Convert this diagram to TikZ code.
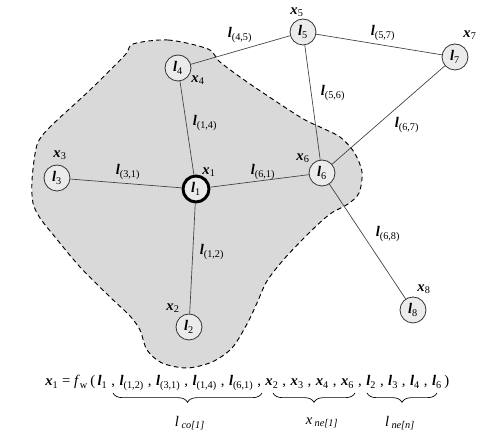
\documentclass[tikz,border=0pt]{standalone}
\usepackage{fontspec}
\setmainfont{Liberation Serif}
\usetikzlibrary{decorations.pathreplacing}
\newcommand{\bl}{\textbf{\textit{l}}}
\newcommand{\bx}{\textbf{\textit{x}}}
\newcommand{\sbs}[1]{\textsubscript{#1}}
\newcommand{\cm}{\hspace{2.9pt},\hspace{3.4pt}}
\begin{document}
\begin{tikzpicture}[x=0.75pt,y=-0.75pt,
  nd/.style={circle,draw=black!80,fill=black!8,minimum size=19.5pt,inner sep=0pt,line width=0.6pt,font=\fontsize{11}{13}\selectfont},
  lbl/.style={inner sep=0pt,font=\fontsize{11}{13}\selectfont},
  edge/.style={draw=black!75,line width=0.5pt},
  blob/.style={draw=black,fill=black!15,dash pattern=on 3.5pt off 2.5pt,line width=0.7pt},
  brc/.style={decorate,decoration={brace,mirror,amplitude=7pt},line width=0.5pt}]
\useasboundingbox (0,0) rectangle (494,448);
\fill[white] (0,0) rectangle (494,448);
\path[blob] plot[smooth cycle,tension=0.5] coordinates {
 (133,44) (168,40) (208,49) (220,62) (250,84) (300,117) (320,127) (340,137)
 (354,152) (362,172) (359,193) (348,204) (330,214) (310,232) (285,258)
 (267,281) (257,303) (247,324) (232,348) (212,362) (187,368) (162,363)
 (147,350) (140,330) (130,316) (110,297) (80,267) (55,237) (40,218)
 (33,203) (32,180) (37,145) (50,127) (90,90) (125,55)};
% nodes
\node[nd,line width=2.2pt,draw=black] (l1) at (196,189) {\bl\sbs{1}};
\node[nd] (l2) at (189,327) {\bl\sbs{2}};
\node[nd] (l3) at (57,178) {\bl\sbs{3}};
\node[nd] (l4) at (178,68) {\bl\sbs{4}};
\node[nd] (l5) at (303,32) {\bl\sbs{5}};
\node[nd] (l6) at (322,173) {\bl\sbs{6}};
\node[nd] (l7) at (455,57) {\bl\sbs{7}};
\node[nd] (l8) at (413,310) {\bl\sbs{8}};
% edges
\draw[edge] (l1) -- (l2);
\draw[edge] (l1) -- (l3);
\draw[edge] (l1) -- (l4);
\draw[edge] (l1) -- (l6);
\draw[edge] (l4) -- (l5);
\draw[edge] (l5) -- (l6);
\draw[edge] (l5) -- (l7);
\draw[edge] (l6) -- (l7);
\draw[edge] (l6) -- (l8);
% edge labels
\node[lbl] (e45) at (240,35) {\bl\sbs{(4,5)}};
\node[lbl] (e57) at (383,33) {\bl\sbs{(5,7)}};
\node[lbl] (e56) at (333,93) {\bl\sbs{(5,6)}};
\node[lbl] (e14) at (205,123) {\bl\sbs{(1,4)}};
\node[lbl] (e31) at (128,172) {\bl\sbs{(3,1)}};
\node[lbl] (e61) at (263,172) {\bl\sbs{(6,1)}};
\node[lbl] (e67) at (407,125) {\bl\sbs{(6,7)}};
\node[lbl] (e12) at (212,252) {\bl\sbs{(1,2)}};
\node[lbl] (e68) at (388,234) {\bl\sbs{(6,8)}};
% state labels
\node[lbl] (x1) at (209,172) {\bx\sbs{1}};
\node[lbl] (x2) at (173,308) {\bx\sbs{2}};
\node[lbl] (x3) at (60,155) {\bx\sbs{3}};
\node[lbl] (x4) at (198,80) {\bx\sbs{4}};
\node[lbl] (x5) at (297,12) {\bx\sbs{5}};
\node[lbl] (x6) at (303,158) {\bx\sbs{6}};
\node[lbl] (x7) at (470,35) {\bx\sbs{7}};
\node[lbl] (x8) at (424,289) {\bx\sbs{8}};
% formula
\node[lbl,anchor=west] (f) at (45,383) {\bx\sbs{1} = \textit{f}\sbs{w}\,(\,\bl\sbs{1}\cm\bl\sbs{(1,2)}\cm\bl\sbs{(3,1)}\cm\bl\sbs{(1,4)}\cm\bl\sbs{(6,1)}\cm\bx\sbs{2}\cm\bx\sbs{3}\cm\bx\sbs{4}\cm\bx\sbs{6}\cm\bl\sbs{2}\cm\bl\sbs{3}\cm\bl\sbs{4}\cm\bl\sbs{6}\,)};
\draw[brc] (113,393) -- (262,393);
\draw[brc] (273,393) -- (355,393);
\draw[brc] (367,393) -- (437,393);
\node[lbl] (b1) at (190,423) {\textit{l}\,\textsubscript{\textit{co[1]}}};
\node[lbl] (b2) at (322,423) {\textit{x}\,\textsubscript{\textit{ne[1]}}};
\node[lbl] (b3) at (400,423) {\textit{l}\,\textsubscript{\textit{ne[n]}}};
\end{tikzpicture}
\end{document}
